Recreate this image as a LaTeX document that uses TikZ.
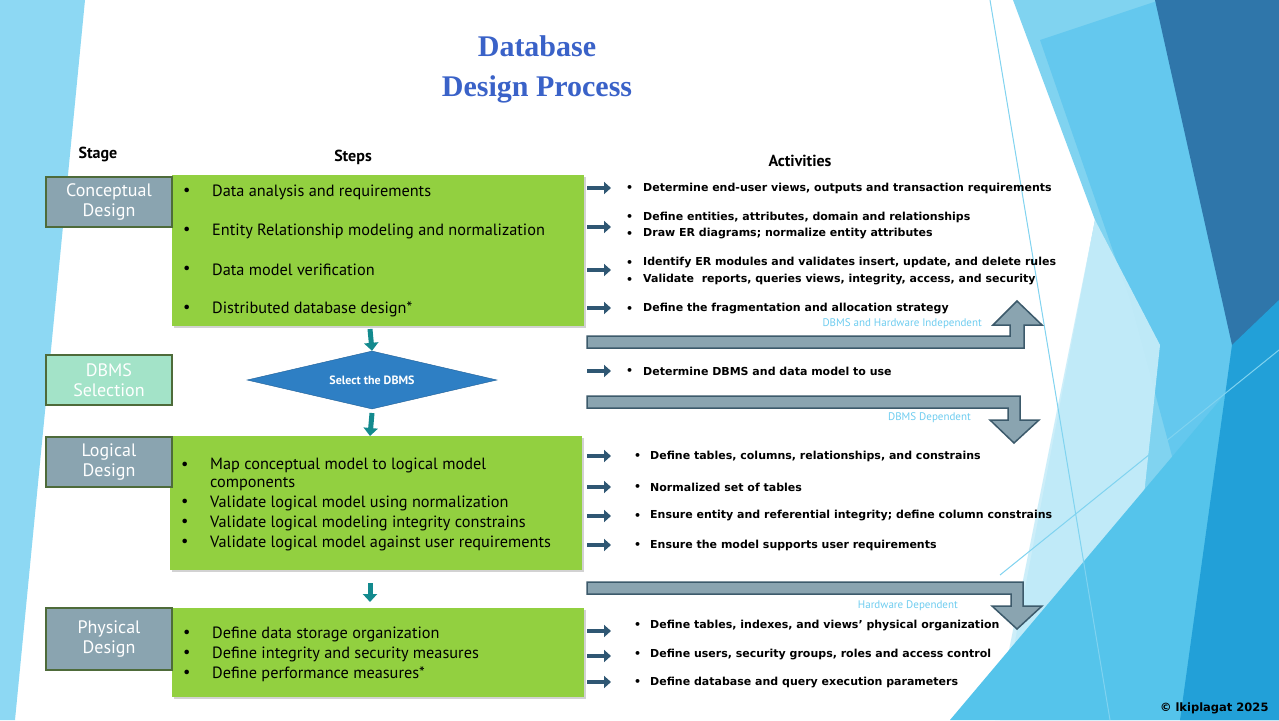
\documentclass[tikz,border=0pt]{standalone}
\usepackage{fontspec}
\setmainfont{PT Sans}
\newfontfamily\actfont{DejaVu Sans}
\newfontfamily\titlefont{Liberation Serif}
\usetikzlibrary{shapes.geometric,shadows,arrows.meta}
\definecolor{gbox}{HTML}{92D040}
\definecolor{sbox}{HTML}{8AA4B0}
\definecolor{sedge}{HTML}{4E6B3A}
\definecolor{arr}{HTML}{2F5773}
\definecolor{teal}{HTML}{138A8E}
\definecolor{big}{HTML}{8AA4B0}
\definecolor{bigedge}{HTML}{3C5A6B}
\definecolor{lbl}{HTML}{6FCDF0}
\definecolor{lw}{HTML}{8DD8F3}
\definecolor{b1}{HTML}{80D3F0}\definecolor{b2}{HTML}{C8EDF9}\definecolor{b3}{HTML}{55C4EB}
\definecolor{b4}{HTML}{2F76AA}\definecolor{b5}{HTML}{22A0D8}\definecolor{b6}{HTML}{64C8EE}
\definecolor{ttl}{HTML}{3A62C8}
\definecolor{mint}{HTML}{A3E3C8}
\definecolor{dia}{HTML}{2E7FC4}
\definecolor{diae}{HTML}{1F5F96}
\tikzset{
 stagebox/.style={draw=sedge,line width=1.2pt,fill=sbox,text=white,minimum width=126pt,align=center,font=\fontsize{18}{20}\selectfont,inner sep=0pt},
 greenbox/.style={fill=gbox,drop shadow={shadow xshift=1.5pt,shadow yshift=-2pt,opacity=.35}},
 steptxt/.style={anchor=west,font=\fontsize{16.3}{18}\selectfont,align=left,inner sep=0pt},
 acttxt/.style={anchor=west,font=\actfont\bfseries\fontsize{11}{13}\selectfont,align=left,inner sep=0pt},
 rarrow/.style={-{Triangle[length=7pt,width=12pt]},line width=4.5pt,draw=arr},
 darrow/.style={-{Triangle[length=8pt,width=14pt]},line width=5pt,draw=teal},
 bigarrow/.style={fill=big,draw=bigedge,line width=1.5pt},
 lbltxt/.style={text=lbl,font=\fontsize{11}{12}\selectfont,inner sep=0pt},
 hdr/.style={font=\bfseries\fontsize{16}{18}\selectfont,inner sep=0pt}
}
\begin{document}
\begin{tikzpicture}[x=1pt,y=-1pt]
\useasboundingbox (0,0) rectangle (1279,720);
% background
\fill[white] (0,0) rectangle (1279,720);
\fill[lw] (0,0)--(85,0)--(15,720)--(0,720)--cycle;
\fill[b1] (1013,0)--(1160,0)--(1279,400)--(1279,720)--(1000,720)--(1095,220)--cycle;
\fill[b6] (1040,40)--(1160,0)--(1250,420)--(1200,560)--(1130,300)--cycle;
\fill[b2,opacity=.9] (1095,220)--(1160,345)--(1120,720)--(995,720)--cycle;
\fill[b3] (950,720)--(1279,330)--(1279,720)--cycle;
\fill[b4] (1155,0)--(1279,0)--(1279,330)--(1232,345)--cycle;
\fill[b5] (1232,345)--(1279,300)--(1279,720)--(1180,720)--cycle;
\draw[b1,line width=1pt] (990,0)--(1110,720);
\draw[b1,line width=1pt] (1000,575)--(1279,350);
% title
\node[text=ttl,font=\titlefont\bfseries\fontsize{30}{40}\selectfont,align=center] (title) at (537,69) {Database\\Design Process};
% headers
\node[hdr] (hstage) at (98,154) {Stage};
\node[hdr] (hsteps) at (353,157) {Steps};
\node[hdr] (hact) at (800,161) {Activities};
% green boxes
\path[greenbox] (172,175) rectangle (584,326);
\path[greenbox] (170,436) rectangle (582,570);
\path[greenbox] (172,608) rectangle (584,697);
\coordinate (g1) at (370,329); \coordinate (g2) at (370,436);
% stage boxes
\node[stagebox,minimum height=50pt] (s1) at (109,202) {Conceptual\\Design};
\node[stagebox,fill=mint,minimum height=50pt] (s2) at (109,380) {DBMS\\Selection};
\node[stagebox,minimum height=50pt] (s3) at (109,462) {Logical\\Design};
\node[stagebox,minimum height=62pt] (s4) at (109,639) {Physical\\Design};
% steps
\foreach \y/\t in {192/Data analysis and requirements,231/Entity Relationship modeling and normalization,270/Data model verification,309/Distributed database design*}{
 \node[steptxt] at (183,\y) {•}; \node[steptxt] at (212,\y) {\t};}
\node[steptxt] at (181,466) {•}; \node[steptxt] at (210,474) {Map conceptual model to logical model\\components};
\foreach \y/\t in {503/Validate logical model using normalization,523/Validate logical modeling integrity constrains,543/Validate logical model against user requirements}{
 \node[steptxt] at (181,\y) {•}; \node[steptxt] at (210,\y) {\t};}
\foreach \y/\t in {634/Define data storage organization,654/Define integrity and security measures,674/Define performance measures*}{
 \node[steptxt] at (183,\y) {•}; \node[steptxt] at (212,\y) {\t};}
% diamond
\node[diamond,aspect=4.3,fill=dia,draw=diae,minimum width=250pt,minimum height=58pt,inner sep=0pt,text=white,font=\bfseries\fontsize{12}{14}\selectfont] (d) at (372,380) {Select the DBMS};
% teal arrows
\draw[darrow] (g1) -- (d.north);
\draw[darrow] (372,413) -- (g2);
\draw[darrow] (370,583) -- (370,602);
% right arrows and activities
\foreach \y in {188,227,270,308,371,456,487,516,545,631,656,682}{\draw[rarrow] (587,\y) -- (611,\y);}
\foreach \y/\t in {188/Determine end-user views{,} outputs and transaction requirements,
 217/Define entities{,} attributes{,} domain and relationships,
 234/Draw ER diagrams; normalize entity attributes,
 263/Identify ER modules and validates insert{,} update{,} and delete rules,
 280/Validate~ reports{,} queries views{,} integrity{,} access{,} and security,
 309/Define the fragmentation and allocation strategy,
 371/Determine DBMS and data model to use}{
 \node[acttxt] at (626,\y) {•}; \node[acttxt] at (643,\y) {\t};}
\foreach \y/\t in {456/Define tables{,} columns{,} relationships{,} and constrains,
 487/Normalized set of tables,
 516/Ensure entity and referential integrity; define column constrains,
 545/Ensure the model supports user requirements,
 625/Define tables{,} indexes{,} and views’ physical organization,
 654/Define users{,} security groups{,} roles and access control,
 682/Define database and query execution parameters}{
 \node[acttxt] at (634,\y) {•}; \node[acttxt] at (650,\y) {\t};}
% big arrows
\draw[bigarrow] (587,336)--(1010,336)--(1010,325)--(993,325)--(1017,301)--(1042,325)--(1024,325)--(1024,348)--(587,348)--cycle;
\node[lbltxt,anchor=east] (l1) at (982,324) {DBMS and Hardware Independent};
\draw[bigarrow] (587,396)--(1020,396)--(1020,420)--(1039,420)--(1014,443)--(990,420)--(1008,420)--(1008,408)--(587,408)--cycle;
\node[lbltxt,anchor=east] (l2) at (971,418) {DBMS Dependent};
\draw[bigarrow] (587,582)--(1023,582)--(1023,606)--(1042,606)--(1017,629)--(992,606)--(1011,606)--(1011,594)--(587,594)--cycle;
\node[lbltxt,anchor=east] (l3) at (958,606) {Hardware Dependent};
\node[font=\actfont\bfseries\fontsize{11.5}{13}\selectfont,anchor=east] (copy) at (1272,708) {© lkiplagat 2025};
\end{tikzpicture}
\end{document}
